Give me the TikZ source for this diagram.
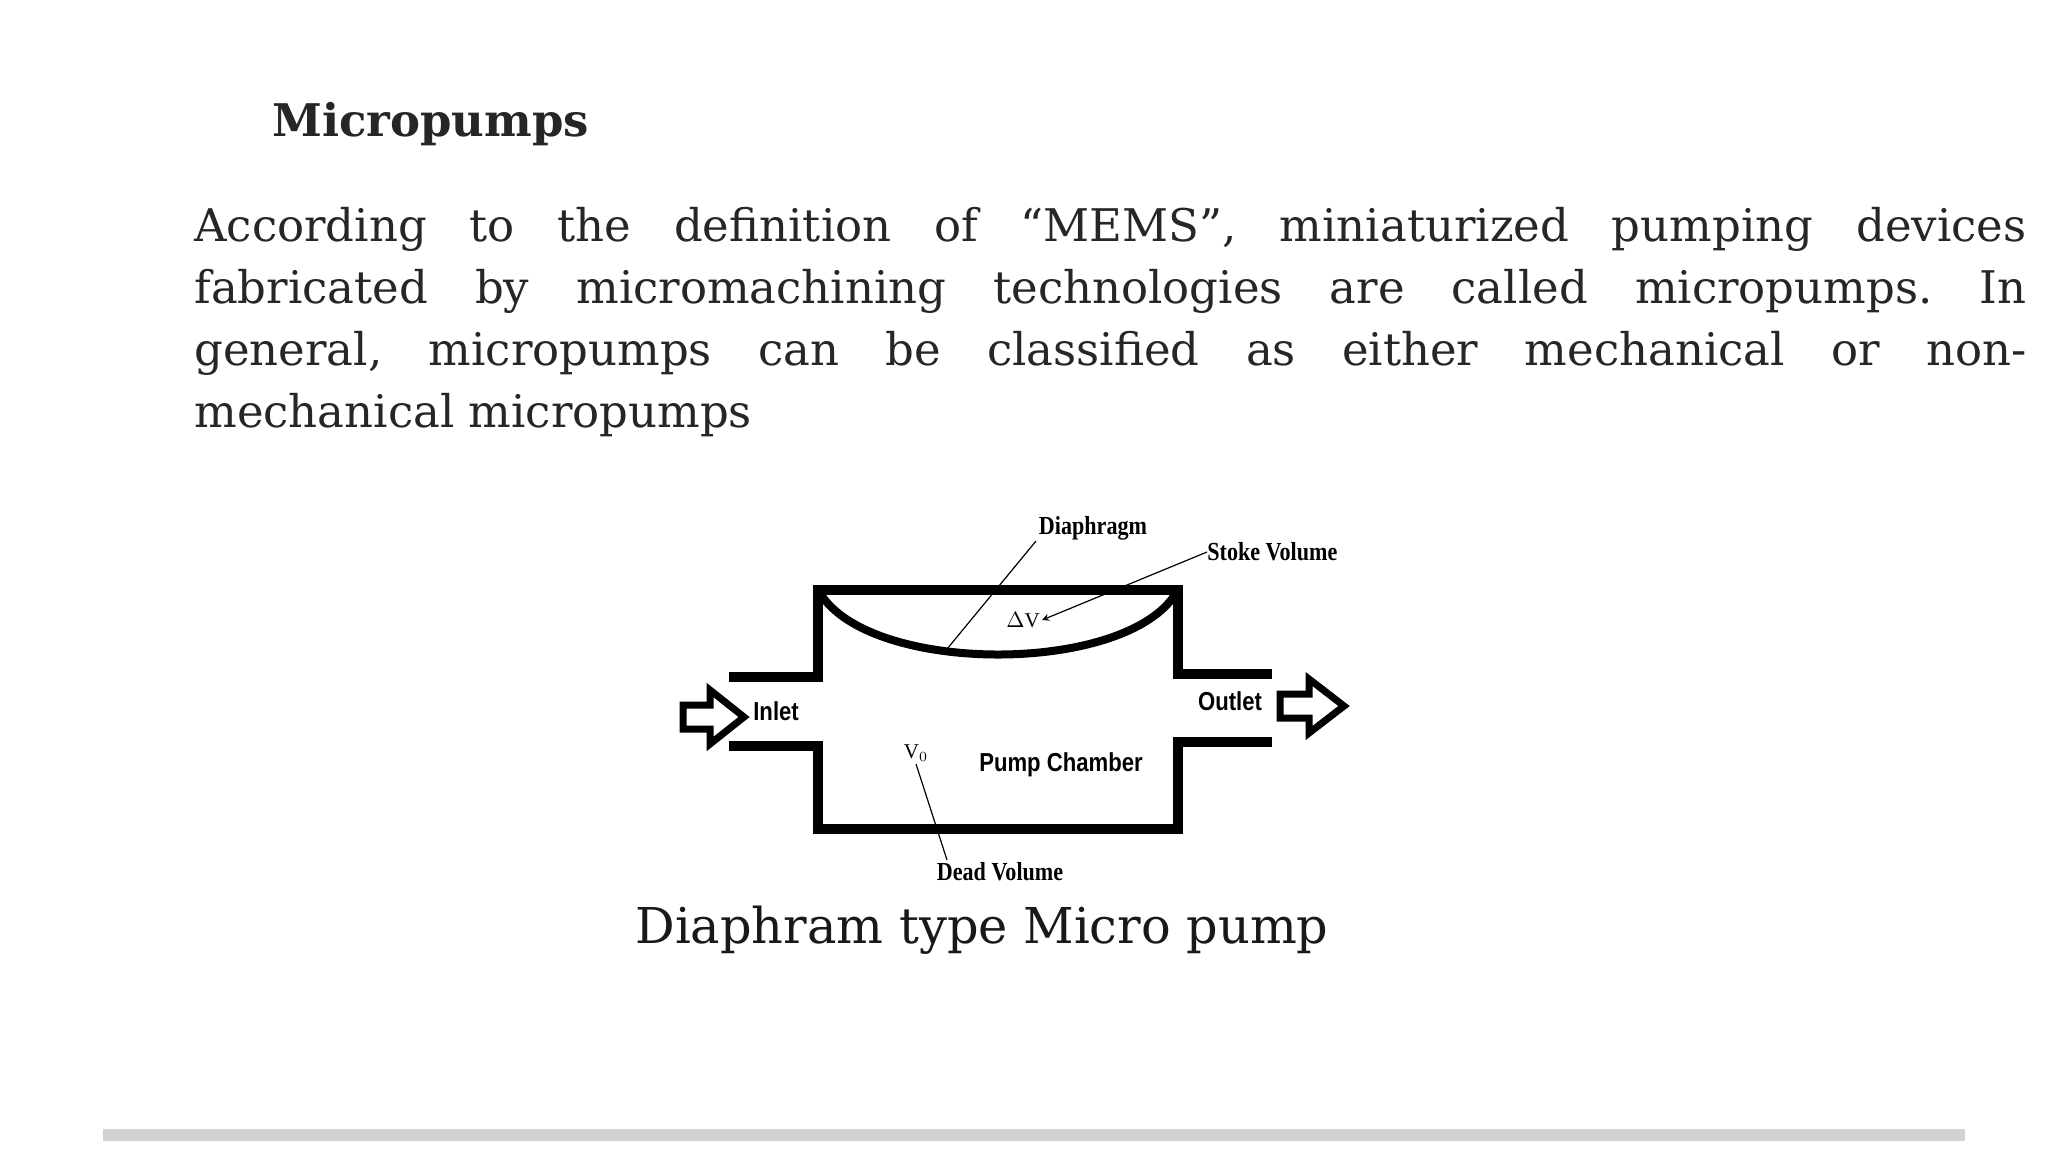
\documentclass[tikz,border=0pt]{standalone}
\usepackage{fontspec}
\setmainfont{Liberation Serif}
\setsansfont{Liberation Sans}
\newfontfamily\bodyfont{DejaVu Serif}
\begin{document}
\frenchspacing
\begin{tikzpicture}[x=0.5pt,y=-0.5pt,
  wall/.style={line width=5pt,line cap=rect},
  blk/.style={line width=3.5pt,line join=miter},
  lead/.style={line width=0.6pt},
  lbl/.style={font=\sffamily\bfseries\fontsize{13}{15}\selectfont,xscale=0.85,inner sep=0pt},
  slbl/.style={font=\rmfamily\bfseries\fontsize{13}{15}\selectfont,xscale=0.85,inner sep=0pt}]
\useasboundingbox (0,0) rectangle (2048,1152);
\node[anchor=base west,inner sep=0pt,font=\bodyfont\bfseries\fontsize{22.5}{26}\selectfont,text=black!85] (title) at (272,136) {Micropumps};
\node[anchor=north west,inner sep=0pt,text width=916pt,align=justify,font=\bodyfont\fontsize{22.5}{31}\selectfont,text=black!85] (body) at (194,207)
{According to the definition of “MEMS”, miniaturized pumping devices\linebreak fabricated by micromachining technologies are called micropumps. In\linebreak general, micropumps can be classified as either mechanical or non-\linebreak mechanical micropumps\par};
% chamber
\draw[wall] (734,677) -- (818,677) -- (818,590) -- (1178,590) -- (1178,674) -- (1267,674);
\draw[wall] (734,746) -- (818,746) -- (818,829) -- (1178,829) -- (1178,742) -- (1267,742);
\draw[line width=4pt] (820,593) .. controls (870,675) and (1126,675) .. (1176,593);
% arrows
\draw[blk] (683,705) -- (710,705) -- (710,690) -- (744,717) -- (710,744) -- (710,729) -- (683,729) -- cycle;
\draw[blk] (1280,694) -- (1309,694) -- (1309,679) -- (1344,706) -- (1309,733) -- (1309,718) -- (1280,718) -- cycle;
% labels
\node[lbl,anchor=west] (inlet) at (753,711) {Inlet};
\node[lbl] (outlet) at (1230,701) {Outlet};
\node[lbl] (pc) at (1061,765) {Pump Chamber};
\node[slbl] (dia) at (1093,528) {Diaphragm};
\node[slbl,anchor=west] (sv) at (1207,552) {Stoke Volume};
\node[font=\rmfamily\fontsize{10.5}{12}\selectfont,inner sep=1pt] (dv) at (1023,620) {$\Delta$V};
\node[font=\rmfamily\fontsize{10.5}{12}\selectfont,inner sep=1pt] (v0) at (916,753) {V$_0$};
\node[slbl] (dead) at (1000,872) {Dead Volume};
\coordinate (diaend) at (947,649);
\coordinate (deadtop) at (947,860);
\draw[lead] (1036,541) -- (diaend);
\draw[lead,->,>=stealth] (sv.west) -- (dv.east);
\draw[lead] (v0.south) -- (deadtop);
\node[font=\bodyfont\fontsize{24.7}{28}\selectfont,inner sep=0pt,text=black!90] (cap) at (982,930) {Diaphram type Micro pump};
\fill[gray!35] (103,1129) rectangle (1965,1141);
\end{tikzpicture}
\end{document}
